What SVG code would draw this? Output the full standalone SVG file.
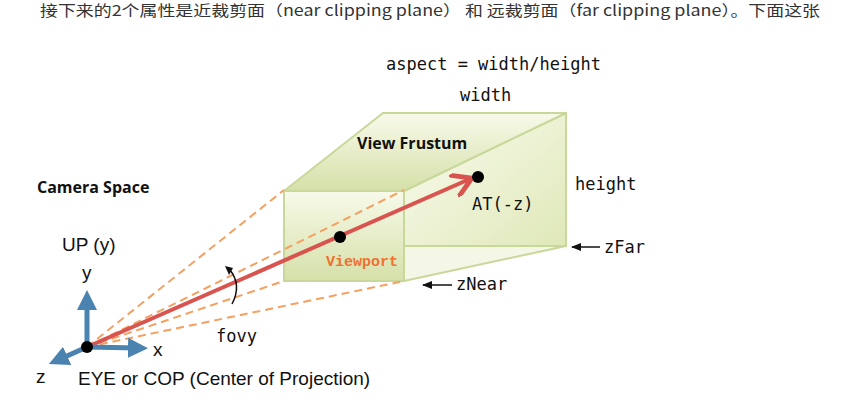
<svg xmlns="http://www.w3.org/2000/svg" width="847" height="416" viewBox="0 0 847 416">
<style>
.t{font-family:"Liberation Sans",sans-serif;font-size:19px;fill:#111}
.m{font-family:"DejaVu Sans Mono",monospace;font-size:17px;fill:#111}
.b{font-family:"Open Sans","Liberation Sans",sans-serif;font-weight:bold;font-size:16px;fill:#111}
.face{stroke:#c8d89a;stroke-width:2}
.dash{stroke:#f4a060;stroke-width:2;stroke-dasharray:8,5;fill:none}
.blue{stroke:#4a82b0;stroke-width:5;fill:none}
</style>
<defs>
<linearGradient id="g1" x1="0" y1="0" x2="1" y2="1"><stop offset="0" stop-color="#fafcf0"/><stop offset="1" stop-color="#dfe8b8"/></linearGradient>
<linearGradient id="g2" x1="0" y1="0" x2="0" y2="1"><stop offset="0" stop-color="#f8faea"/><stop offset="1" stop-color="#d5e0a8"/></linearGradient>
<marker id="ab" markerWidth="4" markerHeight="4" refX="2" refY="2" orient="auto"><path d="M0,0L4,2L0,4z" fill="#4a82b0"/></marker>
<marker id="ar" markerWidth="6" markerHeight="6" refX="5" refY="3" orient="auto"><path d="M0,0L5,3L0,6" fill="none" stroke="#d9534f" stroke-width="1.2"/></marker>
<marker id="ak" markerWidth="10" markerHeight="8" refX="9" refY="4" orient="auto" markerUnits="userSpaceOnUse"><path d="M0,0L10,4L0,8z" fill="#111"/></marker>
</defs>
<text x="40" y="16" textLength="780" lengthAdjust="spacingAndGlyphs" font-family="'Noto Sans CJK SC',sans-serif" font-size="15" fill="#333">接下来的2个属性是近裁剪面（near clipping plane） 和 远裁剪面（far clipping plane）。下面这张</text>
<g id="frustum">
<polygon class="face" points="404,191 566,113 566,246 404,246" fill="url(#g1)"/>
<polygon class="face" points="404,246 566,246 404,281" fill="#f4f7e6"/>
<polygon class="face" points="284,191 383,113 566,113 404,191" fill="url(#g2)"/>
<rect class="face" x="284" y="191" width="120" height="90" fill="url(#g2)"/>
</g>
<g id="connectors">
<line class="dash" x1="87" y1="347" x2="284" y2="190"/>
<line class="dash" x1="87" y1="347" x2="404" y2="190"/>
<line class="dash" x1="87" y1="347" x2="284" y2="281"/>
<line class="dash" x1="87" y1="347" x2="404" y2="281"/>
<line x1="87" y1="347" x2="472" y2="178" stroke="#d9534f" stroke-width="4" marker-end="url(#ar)"/>
<path d="M230,270 Q242,285 232,304" fill="none" stroke="#111" stroke-width="1.5"/>
<path d="M225,266 L233,268 L229,275z" fill="#111"/>
<line x1="452" y1="285" x2="423" y2="285" stroke="#111" stroke-width="1.5" marker-end="url(#ak)"/>
<line x1="600" y1="247" x2="572" y2="247" stroke="#111" stroke-width="1.5" marker-end="url(#ak)"/>
</g>
<g id="axes">
<line class="blue" x1="87" y1="347" x2="87" y2="300" marker-end="url(#ab)"/>
<line class="blue" x1="87" y1="347" x2="138" y2="348" marker-end="url(#ab)"/>
<line class="blue" x1="87" y1="347" x2="58" y2="360" marker-end="url(#ab)"/>
<circle cx="87" cy="347" r="6" fill="#000"/>
</g>
<circle cx="340" cy="237" r="6" fill="#000"/>
<circle cx="478" cy="177" r="6" fill="#000"/>
<text class="m" x="386" y="70">aspect = width/height</text>
<text class="m" x="460" y="101">width</text>
<text class="b" x="357" y="149">View Frustum</text>
<text class="b" x="37" y="193">Camera Space</text>
<text class="m" x="575" y="190">height</text>
<text class="m" x="472" y="210">AT(-z)</text>
<text x="326" y="266" font-family="'Liberation Mono',monospace" font-weight="bold" font-size="15" fill="#f07030">Viewport</text>
<text class="m" x="604" y="253">zFar</text>
<text class="m" x="456" y="290">zNear</text>
<text class="t" x="62" y="251">UP (y)</text>
<text class="t" x="82" y="279">y</text>
<text class="t" x="153" y="356">x</text>
<text class="t" x="36" y="383">z</text>
<text class="m" x="216" y="342">fovy</text>
<text class="t" x="78" y="385">EYE or COP (Center of Projection)</text>
</svg>
